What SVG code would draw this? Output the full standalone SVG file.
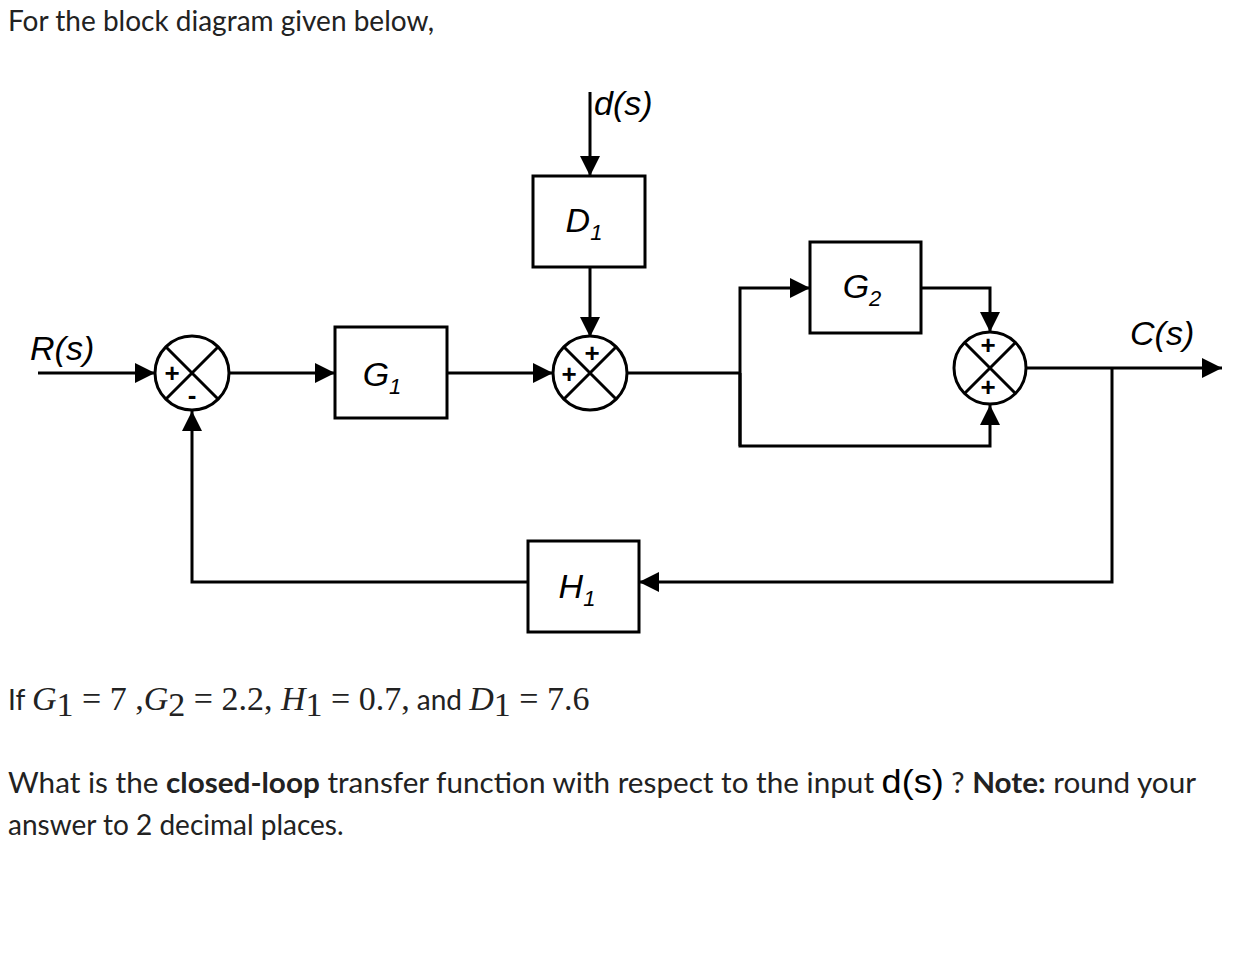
<svg xmlns="http://www.w3.org/2000/svg" width="1242" height="960" viewBox="0 0 1242 960">
<style>
.l{fill:none;stroke:#000;stroke-width:3}
.b{fill:#fff;stroke:#000;stroke-width:3}
.lab{font-family:"Liberation Sans",Arial,sans-serif;font-style:italic;font-size:34px;fill:#000}
.sg{font-family:"Liberation Sans",Arial,sans-serif;font-weight:bold;font-size:26px;fill:#000}
.t{font-family:Lato,"Liberation Sans",sans-serif;font-size:28px;fill:#222}
.m{font-family:"Liberation Serif","Times New Roman",serif;font-size:34px;fill:#222}
</style>
<defs>
<marker id="A" viewBox="0 0 10 10" refX="10" refY="5" markerWidth="24" markerHeight="20" orient="auto" markerUnits="userSpaceOnUse"><path d="M0,0L10,5L0,10z"/></marker></defs>
<text x="8" y="31" class="t">For the block diagram given below,</text>
<g id="connectors">
<path class="l" d="M38,373H155" marker-end="url(#A)"/>
<path class="l" d="M229,373H335" marker-end="url(#A)"/>
<path class="l" d="M447,373H553" marker-end="url(#A)"/>
<path class="l" d="M590,92V176" marker-end="url(#A)"/>
<path class="l" d="M590,267V337" marker-end="url(#A)"/>
<path class="l" d="M627,373H740"/>
<path class="l" d="M740,446V288H810" marker-end="url(#A)"/>
<path class="l" d="M921,288H990V332" marker-end="url(#A)"/>
<path class="l" d="M740,373V446H990V405" marker-end="url(#A)"/>
<path class="l" d="M1026,368H1222" marker-end="url(#A)"/>
<path class="l" d="M1112,368V582H639" marker-end="url(#A)"/>
<path class="l" d="M528,582H192V411" marker-end="url(#A)"/>
</g>
<g id="sum1"><circle class="b" cx="192" cy="373" r="37"/><path class="l" d="M166,347L218,399M218,347L166,399"/><text x="172" y="382" class="sg" text-anchor="middle">+</text><text x="192" y="404" class="sg" text-anchor="middle">-</text></g>
<g id="G1"><rect class="b" x="335" y="327" width="112" height="91"/><text x="382" y="386" class="lab" text-anchor="middle">G<tspan font-size="22" dy="8">1</tspan></text></g>
<g id="sum2"><circle class="b" cx="590" cy="373" r="37"/><path class="l" d="M564,347L616,399M616,347L564,399"/><text x="592" y="362" class="sg" text-anchor="middle">+</text><text x="569" y="383" class="sg" text-anchor="middle">+</text></g>
<g id="D1"><rect class="b" x="533" y="176" width="112" height="91"/><text x="584" y="232" class="lab" text-anchor="middle">D<tspan font-size="22" dy="8">1</tspan></text></g>
<g id="G2"><rect class="b" x="810" y="242" width="111" height="91"/><text x="862" y="298" class="lab" text-anchor="middle">G<tspan font-size="22" dy="8">2</tspan></text></g>
<g id="sum3"><circle class="b" cx="990" cy="368" r="36"/><path class="l" d="M965,343L1015,393M1015,343L965,393"/><text x="988" y="354" class="sg" text-anchor="middle">+</text><text x="988" y="396" class="sg" text-anchor="middle">+</text></g>
<g id="H1"><rect class="b" x="528" y="541" width="111" height="91"/><text x="577" y="598" class="lab" text-anchor="middle">H<tspan font-size="22" dy="8">1</tspan></text></g>
<text x="30" y="360" class="lab">R(s)</text>
<text x="1130" y="345" class="lab">C(s)</text>
<text x="594" y="115" class="lab">d(s)</text>
<text x="8" y="710" class="t">If <tspan class="m" font-style="italic">G</tspan><tspan class="m" font-size="22" dy="6">1</tspan><tspan class="m" dy="-6"> = 7 ,</tspan><tspan class="m" font-style="italic">G</tspan><tspan class="m" font-size="22" dy="6">2</tspan><tspan class="m" dy="-6"> = 2.2, </tspan><tspan class="m" font-style="italic">H</tspan><tspan class="m" font-size="22" dy="6">1</tspan><tspan class="m" dy="-6"> = 0.7,</tspan> and <tspan class="m" font-style="italic">D</tspan><tspan class="m" font-size="22" dy="6">1</tspan><tspan class="m" dy="-6"> = 7.6</tspan></text>
<text x="8" y="793" class="t" textLength="1188" lengthAdjust="spacingAndGlyphs">What is the <tspan font-weight="bold">closed-loop</tspan> transfer function with respect to the input <tspan font-family="Liberation Sans,Arial,sans-serif" font-size="34" fill="#000">d(s)</tspan> ? <tspan font-weight="bold">Note:</tspan> round your</text>
<text x="8" y="835" class="t">answer to 2 decimal places.</text>
</svg>
